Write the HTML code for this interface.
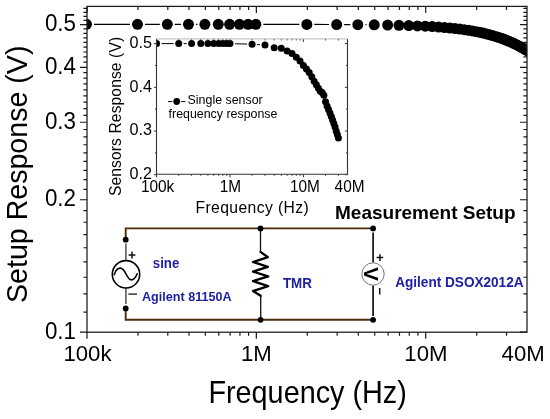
<!DOCTYPE html>
<html><head><meta charset="utf-8"><title>Setup Response</title>
<style>html,body{margin:0;padding:0;background:#fff;width:550px;height:419px;overflow:hidden}svg{display:block}</style>
</head><body>
<svg width="550" height="419" viewBox="0 0 550 419">
<rect width="550" height="419" fill="#fff"/>
<defs><clipPath id="cm"><rect x="87.00" y="6.40" width="440.00" height="325.80"/></clipPath>
<clipPath id="ci"><rect x="156.50" y="38.90" width="191.00" height="135.40"/></clipPath></defs>
<g clip-path="url(#cm)">
<path d="M94.00 24.35L129.98 24.35M144.98 24.35L159.80 24.35M174.80 24.36L180.96 24.36M195.96 24.36L197.37 24.36M263.35 24.38L299.33 24.42M314.33 24.45L329.15 24.50M344.15 24.57L350.31 24.61M365.31 24.73L366.72 24.75" stroke="#000" stroke-width="1.2" fill="none"/>
<g fill="#000"><circle cx="86.50" cy="24.35" r="5.50"/><circle cx="137.48" cy="24.35" r="5.50"/><circle cx="167.30" cy="24.35" r="5.50"/><circle cx="188.46" cy="24.36" r="5.50"/><circle cx="204.87" cy="24.36" r="5.50"/><circle cx="218.28" cy="24.36" r="5.50"/><circle cx="229.62" cy="24.36" r="5.50"/><circle cx="239.44" cy="24.37" r="5.50"/><circle cx="248.10" cy="24.37" r="5.50"/><circle cx="255.85" cy="24.37" r="5.50"/><circle cx="306.83" cy="24.43" r="5.50"/><circle cx="336.65" cy="24.52" r="5.50"/><circle cx="357.81" cy="24.66" r="5.50"/><circle cx="374.22" cy="24.83" r="5.50"/><circle cx="387.63" cy="25.03" r="5.50"/><circle cx="398.97" cy="25.28" r="5.50"/><circle cx="408.79" cy="25.56" r="5.50"/><circle cx="417.45" cy="25.88" r="5.50"/><circle cx="425.20" cy="26.23" r="5.50"/><circle cx="432.21" cy="26.62" r="5.50"/><circle cx="438.61" cy="27.04" r="5.50"/><circle cx="444.50" cy="27.50" r="5.50"/><circle cx="449.95" cy="28.00" r="5.50"/><circle cx="455.02" cy="28.53" r="5.50"/><circle cx="459.77" cy="29.09" r="5.50"/><circle cx="464.23" cy="29.68" r="5.50"/><circle cx="468.43" cy="30.30" r="5.50"/><circle cx="472.41" cy="30.96" r="5.50"/><circle cx="476.18" cy="31.65" r="5.50"/><circle cx="479.77" cy="32.37" r="5.50"/><circle cx="483.19" cy="33.11" r="5.50"/><circle cx="486.46" cy="33.89" r="5.50"/><circle cx="489.59" cy="34.69" r="5.50"/><circle cx="492.59" cy="35.52" r="5.50"/><circle cx="495.48" cy="36.38" r="5.50"/><circle cx="498.25" cy="37.26" r="5.50"/><circle cx="500.93" cy="38.16" r="5.50"/><circle cx="503.51" cy="39.10" r="5.50"/><circle cx="506.00" cy="40.05" r="5.50"/><circle cx="508.41" cy="41.02" r="5.50"/><circle cx="510.75" cy="42.02" r="5.50"/><circle cx="513.01" cy="43.04" r="5.50"/><circle cx="515.21" cy="44.08" r="5.50"/><circle cx="517.34" cy="45.14" r="5.50"/><circle cx="519.41" cy="46.21" r="5.50"/><circle cx="521.42" cy="47.31" r="5.50"/><circle cx="523.39" cy="48.42" r="5.50"/><circle cx="525.30" cy="49.55" r="5.50"/><circle cx="527.16" cy="50.69" r="5.50"/></g>
</g>
<path d="M87.00 332.20H80.00M527.00 332.20H520.00M87.00 312.07H83.40M527.00 312.07H523.40M87.00 293.85H83.40M527.00 293.85H523.40M87.00 277.23H83.40M527.00 277.23H523.40M87.00 261.93H83.40M527.00 261.93H523.40M87.00 247.77H83.40M527.00 247.77H523.40M87.00 234.59H83.40M527.00 234.59H523.40M87.00 222.25H83.40M527.00 222.25H523.40M87.00 210.67H83.40M527.00 210.67H523.40M87.00 199.75H80.00M527.00 199.75H520.00M87.00 189.42H83.40M527.00 189.42H523.40M87.00 179.61H83.40M527.00 179.61H523.40M87.00 170.29H83.40M527.00 170.29H523.40M87.00 161.40H83.40M527.00 161.40H523.40M87.00 152.91H83.40M527.00 152.91H523.40M87.00 144.77H83.40M527.00 144.77H523.40M87.00 136.97H83.40M527.00 136.97H523.40M87.00 129.48H83.40M527.00 129.48H523.40M87.00 122.27H80.00M527.00 122.27H520.00M87.00 115.32H83.40M527.00 115.32H523.40M87.00 108.61H83.40M527.00 108.61H523.40M87.00 102.13H83.40M527.00 102.13H523.40M87.00 95.87H83.40M527.00 95.87H523.40M87.00 89.80H83.40M527.00 89.80H523.40M87.00 83.92H83.40M527.00 83.92H523.40M87.00 78.22H83.40M527.00 78.22H523.40M87.00 72.68H83.40M527.00 72.68H523.40M87.00 67.29H80.00M527.00 67.29H520.00M87.00 62.06H83.40M527.00 62.06H523.40M87.00 56.96H83.40M527.00 56.96H523.40M87.00 52.00H83.40M527.00 52.00H523.40M87.00 47.16H83.40M527.00 47.16H523.40M87.00 42.44H83.40M527.00 42.44H523.40M87.00 37.84H83.40M527.00 37.84H523.40M87.00 33.34H83.40M527.00 33.34H523.40M87.00 28.95H83.40M527.00 28.95H523.40M87.00 24.65H80.00M527.00 24.65H520.00M87.00 20.45H83.40M527.00 20.45H523.40M87.00 16.34H83.40M527.00 16.34H523.40M87.00 12.32H83.40M527.00 12.32H523.40M87.00 8.38H83.40M527.00 8.38H523.40M87.00 332.20V338.80M87.00 6.40V13.00M137.98 332.20V335.80M137.98 6.40V10.00M167.80 332.20V335.80M167.80 6.40V10.00M188.96 332.20V335.80M188.96 6.40V10.00M205.37 332.20V335.80M205.37 6.40V10.00M218.78 332.20V335.80M218.78 6.40V10.00M230.12 332.20V335.80M230.12 6.40V10.00M239.94 332.20V335.80M239.94 6.40V10.00M248.60 332.20V335.80M248.60 6.40V10.00M256.35 332.20V338.80M256.35 6.40V13.00M307.33 332.20V335.80M307.33 6.40V10.00M337.15 332.20V335.80M337.15 6.40V10.00M358.31 332.20V335.80M358.31 6.40V10.00M374.72 332.20V335.80M374.72 6.40V10.00M388.13 332.20V335.80M388.13 6.40V10.00M399.47 332.20V335.80M399.47 6.40V10.00M409.29 332.20V335.80M409.29 6.40V10.00M417.95 332.20V335.80M417.95 6.40V10.00M425.70 332.20V338.80M425.70 6.40V13.00M476.68 332.20V335.80M476.68 6.40V10.00M506.50 332.20V335.80M506.50 6.40V10.00" stroke="#1a1a1a" stroke-width="1.2" fill="none"/>
<rect x="87.00" y="6.40" width="440.00" height="325.80" fill="none" stroke="#1a1a1a" stroke-width="1.25"/>
<g font-family="Liberation Sans, Arial, sans-serif" font-size="22.4" fill="#000" text-anchor="end">
<text transform="translate(76.0 338.90) scale(1 1.035)">0.1</text>
<text transform="translate(76.0 206.45) scale(1 1.035)">0.2</text>
<text transform="translate(76.0 128.97) scale(1 1.035)">0.3</text>
<text transform="translate(76.0 73.99) scale(1 1.035)">0.4</text>
<text transform="translate(76.0 31.35) scale(1 1.035)">0.5</text>
</g>
<g font-family="Liberation Sans, Arial, sans-serif" font-size="22.2" fill="#000" text-anchor="middle">
<text transform="translate(87.50 361.2) scale(1 1.035)">100k</text>
<text transform="translate(256.35 361.2) scale(1 1.035)">1M</text>
<text transform="translate(425.90 361.2) scale(1 1.035)">10M</text>
<text transform="translate(523.16 361.2) scale(1 1.035)">40M</text>
</g>
<text font-family="Liberation Sans, Arial, sans-serif" font-size="28.8" transform="translate(307.6 402.6) scale(1 1.06)" text-anchor="middle">Frequency (Hz)</text>
<text font-family="Liberation Sans, Arial, sans-serif" font-size="28.6" transform="translate(26.8 174.3) rotate(-90) scale(1 1.05)" text-anchor="middle">Setup Response (V)</text>
<rect x="156.50" y="38.90" width="191.00" height="135.40" fill="#fff"/>
<g clip-path="url(#ci)">
<path d="M161.60 43.60L173.70 43.60M183.70 43.60L186.62 43.60M235.00 43.74L247.10 44.07M257.08 44.55L260.03 44.75" stroke="#000" stroke-width="1" fill="none"/>
<g fill="#000"><circle cx="156.60" cy="43.60" r="3.50"/><circle cx="178.70" cy="43.60" r="3.50"/><circle cx="191.62" cy="43.60" r="3.50"/><circle cx="200.79" cy="43.60" r="3.50"/><circle cx="207.90" cy="43.60" r="3.50"/><circle cx="213.72" cy="43.60" r="3.50"/><circle cx="218.63" cy="43.60" r="3.50"/><circle cx="222.89" cy="43.60" r="3.50"/><circle cx="226.64" cy="43.60" r="3.50"/><circle cx="230.00" cy="43.60" r="3.50"/><circle cx="252.10" cy="44.21" r="3.50"/><circle cx="265.02" cy="45.09" r="3.50"/><circle cx="274.19" cy="47.71" r="3.50"/><circle cx="281.30" cy="48.19" r="3.50"/><circle cx="287.12" cy="51.03" r="3.50"/><circle cx="292.03" cy="53.52" r="3.50"/><circle cx="296.29" cy="57.23" r="3.50"/><circle cx="300.04" cy="61.08" r="3.50"/><circle cx="303.40" cy="65.45" r="3.50"/><circle cx="306.44" cy="68.95" r="3.50"/><circle cx="309.21" cy="72.44" r="3.50"/><circle cx="311.76" cy="76.81" r="3.50"/><circle cx="314.13" cy="81.18" r="3.50"/><circle cx="316.33" cy="84.68" r="3.50"/><circle cx="318.38" cy="88.17" r="3.50"/><circle cx="320.31" cy="91.23" r="3.50"/><circle cx="322.14" cy="92.54" r="3.50"/><circle cx="323.86" cy="95.17" r="3.50"/><circle cx="325.50" cy="101.72" r="3.50"/><circle cx="327.05" cy="106.09" r="3.50"/><circle cx="328.53" cy="109.59" r="3.50"/><circle cx="329.95" cy="113.08" r="3.50"/><circle cx="331.31" cy="116.58" r="3.50"/><circle cx="332.61" cy="120.07" r="3.50"/><circle cx="333.86" cy="123.57" r="3.50"/><circle cx="335.06" cy="127.07" r="3.50"/><circle cx="336.22" cy="131.00" r="3.50"/><circle cx="337.34" cy="134.50" r="3.50"/><circle cx="338.42" cy="137.99" r="3.50"/></g>
</g>
<path d="M156.50 174.70H153.90M347.50 174.70H344.90M156.50 152.85H155.00M347.50 152.85H346.00M156.50 131.00H153.90M347.50 131.00H344.90M156.50 109.15H155.00M347.50 109.15H346.00M156.50 87.30H153.90M347.50 87.30H344.90M156.50 65.45H155.00M347.50 65.45H346.00M156.50 43.60H153.90M347.50 43.60H344.90M156.60 174.30V177.30M156.60 38.90V41.90M178.70 174.30V175.80M178.70 38.90V40.40M191.62 174.30V175.80M191.62 38.90V40.40M200.79 174.30V175.80M200.79 38.90V40.40M207.90 174.30V175.80M207.90 38.90V40.40M213.72 174.30V175.80M213.72 38.90V40.40M218.63 174.30V175.80M218.63 38.90V40.40M222.89 174.30V175.80M222.89 38.90V40.40M226.64 174.30V175.80M226.64 38.90V40.40M230.00 174.30V177.30M230.00 38.90V41.90M252.10 174.30V175.80M252.10 38.90V40.40M265.02 174.30V175.80M265.02 38.90V40.40M274.19 174.30V175.80M274.19 38.90V40.40M281.30 174.30V175.80M281.30 38.90V40.40M287.12 174.30V175.80M287.12 38.90V40.40M292.03 174.30V175.80M292.03 38.90V40.40M296.29 174.30V175.80M296.29 38.90V40.40M300.04 174.30V175.80M300.04 38.90V40.40M303.40 174.30V177.30M303.40 38.90V41.90M325.50 174.30V175.80M325.50 38.90V40.40M338.42 174.30V175.80M338.42 38.90V40.40" stroke="#333" stroke-width="1" fill="none"/>
<path d="M156.50 38.90V174.30H347.50V38.90" stroke="#333" stroke-width="1.1" fill="none"/>
<path d="M156.50 38.90H347.50" stroke="#b8b8b8" stroke-width="1" fill="none"/>
<g font-family="Liberation Sans, Arial, sans-serif" font-size="16.2" fill="#000" text-anchor="end">
<text transform="translate(152.0 179.10) scale(1 0.97)">0.2</text>
<text transform="translate(152.0 135.40) scale(1 0.97)">0.3</text>
<text transform="translate(152.0 91.70) scale(1 0.97)">0.4</text>
<text transform="translate(152.0 48.00) scale(1 0.97)">0.5</text>
</g>
<g font-family="Liberation Sans, Arial, sans-serif" font-size="15.4" fill="#000" text-anchor="middle">
<text transform="translate(157.60 191.6) scale(1 1.060)">100k</text>
<text transform="translate(230.50 191.6) scale(1 1.060)">1M</text>
<text transform="translate(304.90 191.6) scale(1 1.060)">10M</text>
<text transform="translate(349.59 191.6) scale(1 1.060)">40M</text>
</g>
<text font-family="Liberation Sans, Arial, sans-serif" font-size="15.7" transform="translate(252.3 212.5) scale(1 1.03)" text-anchor="middle" letter-spacing="0.4">Frequency (Hz)</text>
<text font-family="Liberation Sans, Arial, sans-serif" font-size="15.6" transform="translate(121.3 116.4) rotate(-90) scale(1 1.03)" text-anchor="middle" letter-spacing="0.12">Sensors Response (V)</text>
<path d="M168.1 101.6H172.4M181.2 101.6H185.4" stroke="#000" stroke-width="1"/>
<circle cx="176.7" cy="101.5" r="3.4" fill="#000"/>
<text font-family="Liberation Sans, Arial, sans-serif" font-size="12.4" x="187.6" y="103.9">Single sensor</text>
<text font-family="Liberation Sans, Arial, sans-serif" font-size="12.4" x="168.6" y="118.3">frequency response</text>
<path d="M125.7 239.7V228.4H373M125.7 308.4V319.8H373" stroke="#4e2d0c" stroke-width="1.9" fill="none"/>
<path d="M125.9 243.5V261M125.9 288V304" stroke="#444" stroke-width="1.4" fill="none"/>
<circle cx="126" cy="274.3" r="13.7" fill="#fff" stroke="#000" stroke-width="1.6"/>
<path d="M114.3 274.6C115.5 270.5 117.6 268.1 120.2 268.1C123 268.1 124.6 271.2 126 274C127.5 277 129 279.9 131.3 279.9C133.8 279.9 135.7 277.5 137.2 273.8" stroke="#000" stroke-width="1.6" fill="none" stroke-linecap="round"/>
<circle cx="125.7" cy="239.7" r="2.9" fill="#000"/><circle cx="125.7" cy="308.4" r="2.9" fill="#000"/>
<path d="M128.6 255H135.4M132 251.6V258.4" stroke="#111" stroke-width="1.5"/>
<path d="M128.4 294.1H137" stroke="#333" stroke-width="1.5"/>
<path d="M260.5 251.9L267.9 257.2L253 262L267.9 266.8L253 271.6L268.2 276.4L253 281.1L268.2 286.1L253 291L260.7 295.8" stroke="#000" stroke-width="2.3" fill="none" stroke-linejoin="round" stroke-linecap="round"/>
<path d="M260.5 228.4V251.9M260.7 295.8V319.8" stroke="#111" stroke-width="1.3" fill="none"/>
<circle cx="260.5" cy="228.4" r="2.9" fill="#000"/><circle cx="260.6" cy="319.8" r="2.9" fill="#000"/>
<path d="M373.1 232.5V262.5M373.1 285.5V316" stroke="#111" stroke-width="1.7" fill="none"/>
<circle cx="373" cy="274" r="11.2" fill="#fff" stroke="#777" stroke-width="1"/>
<text font-family="Liberation Sans, Arial, sans-serif" font-size="21" font-weight="bold" transform="translate(364.3 274) rotate(90)" text-anchor="middle">V</text>
<circle cx="373.1" cy="228.4" r="2.9" fill="#000"/><circle cx="373.1" cy="319.8" r="2.9" fill="#000"/>
<path d="M376.6 257.6H383.2M379.9 254.3V260.9M379.7 288V294.5" stroke="#111" stroke-width="1.5"/>
<g font-family="Liberation Sans, Arial, sans-serif" font-weight="bold" fill="#2020a4">
<text font-size="13.3" transform="translate(152.8 267.9) scale(1 1.04)">sine</text>
<text font-size="12.6" transform="translate(142.0 300.5) scale(1 1.04)">Agilent 81150A</text>
<text font-size="13.4" transform="translate(282.9 287.7) scale(1 1.05)">TMR</text>
<text font-size="13.6" transform="translate(395.2 286.8) scale(1 1.04)">Agilent DSOX2012A</text>
</g>
<text font-family="Liberation Sans, Arial, sans-serif" font-weight="bold" font-size="19" transform="translate(335.0 218.8)">Measurement Setup</text>
</svg>
</body></html>
